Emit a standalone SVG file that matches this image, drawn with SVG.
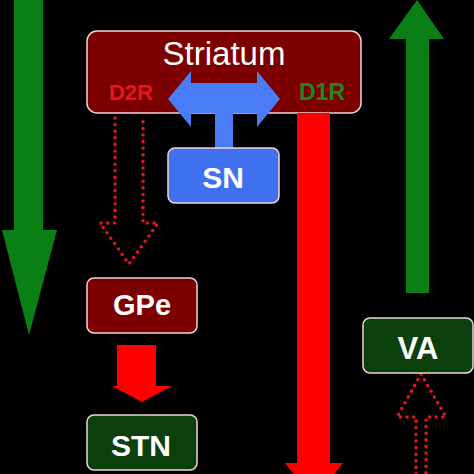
<svg xmlns="http://www.w3.org/2000/svg" width="474" height="474" viewBox="0 0 474 474">
<style>
.box{stroke:#f2d6d6;stroke-width:1.5}
.red{fill:#7d0000}
.grn{fill:#0b3f0b}
.blu{fill:#3f70f0}
.lbl{font-family:"Liberation Sans",Arial,sans-serif;font-weight:bold;fill:#ffffff;text-anchor:middle}
.dot{fill:none;stroke:#e0161e;stroke-width:3.6;stroke-linecap:round;stroke-dasharray:0 6.6}
</style>
<rect width="474" height="474" fill="#000"/>
<g id="striatum">
  <rect class="box red" x="87" y="31" width="274" height="82" rx="10"/>
  <text x="224" y="65" font-family="Liberation Sans,Arial,sans-serif" font-size="33" fill="#ffffff" text-anchor="middle">Striatum</text>
  <text x="131" y="100" font-family="Liberation Sans,Arial,sans-serif" font-size="22" font-weight="bold" fill="#e8141e" text-anchor="middle">D2R</text>
  <text x="322" y="100" font-family="Liberation Sans,Arial,sans-serif" font-size="23" font-weight="bold" fill="#1a8a1a" text-anchor="middle">D1R</text>
</g>
<g id="connectors">
  <path d="M14,0 H43 V230 H57 L29,335 L2,230 H14 Z" fill="#0a7f16"/>
  <path d="M406,293 H429 V39 H444 L417,0 L389,39 H406 Z" fill="#0a7f16"/>
  <path d="M297,113 H330 V463 H343 L314,500 L285,463 H297 Z" fill="#ff0000"/>
  <path d="M117,345 H156 V386 H172 L142,402 L112,386 H117 Z" fill="#ff0000"/>
  <path class="dot" d="M115,118 V223 H100 L129,264 L158,223 H143 V118"/>
  <path class="dot" d="M416,474 V417 H397 L421,374 L446,417 H426 V474"/>
  <path d="M215,148 V113 H191 V127 L168,99 L191,71 V83 H257 V71 L280,99 L257,127 V113 H233 V148 Z" fill="#4a7cf5"/>
</g>
<g id="sn">
  <rect class="box blu" x="168" y="148" width="111" height="55" rx="7"/>
  <text class="lbl" x="223" y="188" font-size="30">SN</text>
</g>
<g id="gpe">
  <rect class="box red" x="87" y="278" width="110" height="55" rx="7"/>
  <text class="lbl" x="142" y="315" font-size="29">GPe</text>
</g>
<g id="stn">
  <rect class="box grn" x="87" y="415" width="110" height="55" rx="7"/>
  <text class="lbl" x="141" y="456" font-size="30">STN</text>
</g>
<g id="va">
  <rect class="box grn" x="363" y="318" width="110" height="55" rx="7"/>
  <text class="lbl" x="418" y="359" font-size="31">VA</text>
</g>
</svg>
